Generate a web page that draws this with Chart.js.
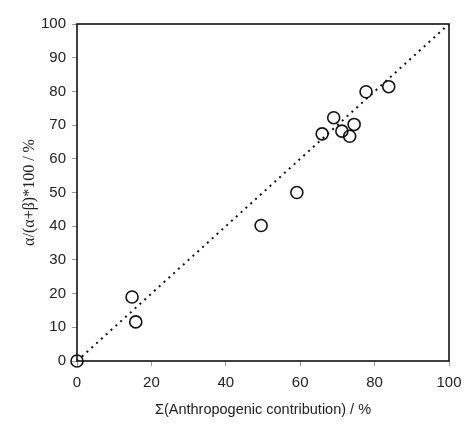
<!DOCTYPE html>
<html>
<head>
<meta charset="utf-8">
<script src="https://cdn.jsdelivr.net/npm/chart.js@4"></script>
<style>
html,body{margin:0;padding:0;background:#fff;}
#wrap{width:474px;height:437px;}
</style>
</head>
<body>
<div id="wrap"><canvas id="c" width="474" height="437"></canvas></div>
<script>
const xValues = [0, 14.8, 15.8, 49.5, 59.1, 65.9, 69.0, 71.2, 73.3, 74.5, 77.7, 83.8];
const yValues = [0, 19.0, 11.6, 40.2, 50.0, 67.4, 72.2, 68.2, 66.7, 70.2, 79.9, 81.4];
const lineX = [0, 100];
const lineY = [0, 100];
const xTicks = [0, 20, 40, 60, 80, 100];
const yTicks = [0, 10, 20, 30, 40, 50, 60, 70, 80, 90, 100];
const xTitle = 'Σ(Anthropogenic contribution) / %';
const yTitle = 'α/(α+β)*100 / %';

const frame = {
  id: 'frame',
  beforeDatasetsDraw(chart) {
    const a = chart.chartArea, ctx = chart.ctx;
    ctx.save();
    ctx.strokeStyle = '#111';
    ctx.lineWidth = 1.6;
    ctx.strokeRect(a.left, a.top, a.right - a.left, a.bottom - a.top);
    ctx.restore();
  }
};

new Chart(document.getElementById('c'), {
  type: 'scatter',
  data: {
    datasets: [
      {
        label: 'data',
        data: xValues.map((x, i) => ({x: x, y: yValues[i]})),
        pointRadius: 6,
        pointHoverRadius: 6,
        pointBorderWidth: 1.6,
        pointBorderColor: '#111',
        pointBackgroundColor: 'rgba(255,255,255,0)',
        showLine: false,
        clip: false,
        order: 0
      },
      {
        label: '1:1',
        type: 'line',
        data: lineX.map((x, i) => ({x: x, y: lineY[i]})),
        borderColor: '#111',
        borderWidth: 2,
        borderDash: [2, 4.5],
        pointRadius: 0,
        fill: false,
        order: 1
      }
    ]
  },
  options: {
    responsive: false,
    animation: false,
    devicePixelRatio: 1,
    layout: {padding: {left: 0, right: 25, top: 24, bottom: 0}},
    plugins: {legend: {display: false}, tooltip: {enabled: false}},
    scales: {
      x: {
        type: 'linear',
        min: 0, max: 100,
        afterBuildTicks(s) { s.ticks = xTicks.map(v => ({value: v})); },
        afterFit(s) { s.height = 76; },
        grid: {drawOnChartArea: false, drawTicks: true, tickLength: 5, color: '#999', tickWidth: 1},
        border: {display: false},
        ticks: {color: '#222', padding: 8, font: {family: 'Liberation Sans, Arial, sans-serif', size: 15}},
        title: {display: true, text: xTitle, color: '#222', padding: {top: 0, bottom: 18}, font: {family: 'Liberation Sans, Arial, sans-serif', size: 14.5}}
      },
      y: {
        type: 'linear',
        min: 0, max: 100,
        afterBuildTicks(s) { s.ticks = yTicks.map(v => ({value: v})); },
        afterFit(s) { s.width = 77; },
        grid: {drawOnChartArea: false, drawTicks: true, tickLength: 5, color: '#999', tickWidth: 1},
        border: {display: false},
        ticks: {color: '#222', padding: 6, font: {family: 'Liberation Sans, Arial, sans-serif', size: 15}},
        title: {display: true, text: yTitle, color: '#222', padding: {top: 20, bottom: 0}, font: {family: 'Liberation Serif, Times New Roman, serif', size: 16}}
      }
    }
  },
  plugins: [frame]
});
</script>
</body>
</html>
